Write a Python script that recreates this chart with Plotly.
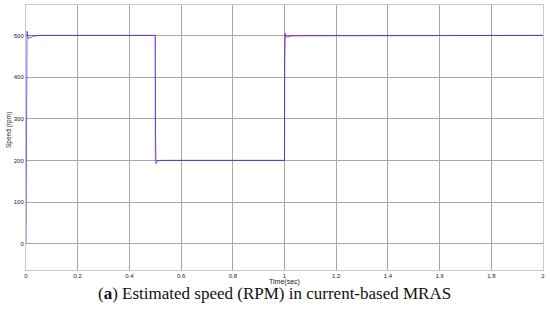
import plotly.graph_objects as go

# Reference speed command (rpm)
ref_time = [0.0, 0.5, 0.5, 1.0, 1.0, 2.0]
ref_speed = [500, 500, 200, 200, 500, 500]

# Estimated speed (rpm), current-based MRAS
est_time = [0.0, 0.002, 0.004, 0.008, 0.015, 0.03, 0.05, 0.5, 0.501, 0.503, 0.506, 0.51, 0.53,
            1.0, 1.001, 1.003, 1.006, 1.01, 1.03, 2.0]
est_speed = [0, 505, 510, 493, 495, 498, 500, 500, 260, 192, 197, 199, 200,
             200, 440, 505, 497, 496, 499, 500]

x_ticks = [0, 0.2, 0.4, 0.6, 0.8, 1, 1.2, 1.4, 1.6, 1.8, 2]
x_tick_text = ["0", "0.2", "0.4", "0.6", "0.8", "1", "1.2", "1.4", "1.6", "1.8", "2"]
y_ticks = [0, 100, 200, 300, 400, 500]

fig = go.Figure()
fig.add_trace(go.Scatter(x=ref_time, y=ref_speed, mode="lines",
                         line=dict(color="rgba(220,60,90,0.7)", width=1), showlegend=False))
fig.add_trace(go.Scatter(x=est_time, y=est_speed, mode="lines",
                         line=dict(color="rgba(40,40,230,0.7)", width=1), showlegend=False))

axis_common = dict(showgrid=True, gridcolor="#a8a8a8", gridwidth=1, zeroline=False,
                   showline=True, linecolor="#c8c8c8", linewidth=1, mirror=True,
                   ticks="", automargin=False,
                   tickfont=dict(family="Liberation Sans", size=6, color="#222"))
fig.update_xaxes(range=[0, 2], tickvals=x_ticks, ticktext=x_tick_text, **axis_common)
fig.update_yaxes(range=[-63, 573], tickvals=y_ticks, **axis_common)

fig.add_annotation(text="Time(sec)", x=0.5, y=-0.027, xref="paper", yref="paper",
                   xanchor="center", yanchor="top", showarrow=False, borderpad=0,
                   font=dict(family="Liberation Sans", size=7, color="#222"))
fig.add_annotation(text="Speed (rpm)", x=-0.034, y=0.53, xref="paper", yref="paper",
                   xanchor="center", yanchor="middle", textangle=-90, showarrow=False,
                   borderpad=0,
                   font=dict(family="Liberation Sans", size=6.5, color="#222"))
fig.add_annotation(text="(<b>a</b>) Estimated speed (RPM) in current-based MRAS",
                   x=0.4816, y=-0.088, xref="paper", yref="paper",
                   xanchor="center", yanchor="middle", showarrow=False, borderpad=0,
                   font=dict(family="Liberation Serif", size=17, color="#111"))

fig.update_layout(width=550, height=313, margin=dict(l=26, r=7, t=5, b=43),
                  plot_bgcolor="white", paper_bgcolor="white")
fig.write_html("out.html", config={"displayModeBar": False},
               post_script="document.body.style.margin='0';")
